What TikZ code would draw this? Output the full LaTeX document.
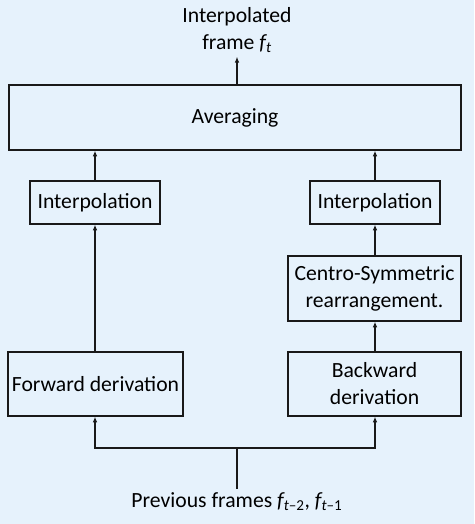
\documentclass[tikz,border=0pt]{standalone}
\usepackage{fontspec}
\setmainfont{Carlito}
\usepackage{xcolor}
\usetikzlibrary{arrows.meta, positioning, calc}
\definecolor{paleblue}{RGB}{230, 242, 252}
\definecolor{linegray}{RGB}{25, 25, 25}

\begin{document}
\begin{tikzpicture}[
    block/.style={rectangle, minimum width=5.19cm, minimum height=1.95cm, text centered, align=center, draw=linegray, fill=paleblue, line width=1pt, font=\fontsize{18.5}{23}\selectfont},
    small/.style={block, minimum width=3.9cm, minimum height=1.29cm},
    label/.style={text centered, align=center, font=\fontsize{18.5}{23}\selectfont},
    arrow/.style={line width=1pt, -{Latex[length=5pt, width=4pt]}, draw=linegray}
]

% Background
\fill[paleblue] (0,0) rectangle (14.22,15.72);
\useasboundingbox (0,0) rectangle (14.22,15.72);

% Blocks
\node (averaging) [block, minimum width=13.56cm] at (7.05,12.195) {Averaging};
\node (interp_fwd) [small] at (2.85,9.645) {Interpolation};
\node (interp_bwd) [small] at (11.25,9.645) {Interpolation};
\node (centro) [block] at (11.235,7.065) {Centro-Symmetric\\rearrangement.};
\node (forward) [block, minimum height=1.92cm] at (2.865,4.2) {Forward derivation};
\node (backward) [block, minimum height=1.92cm] at (11.235,4.2) {Backward\\derivation};

% Input and output
\node (output) [label] at (7.11,14.82) {Interpolated\\frame {\itshape f}\textsubscript{\itshape t}};
\node (input) [label] at (7.11,0.66) {Previous frames {\itshape f}\textsubscript{\itshape t\upshape–2}, {\itshape f}\textsubscript{\itshape t\upshape–1}};
\coordinate (split) at (7.11,2.28);

% Arrows
\draw [arrow] (averaging.north -| output) -- (output.south);
\draw [arrow] (interp_fwd.north) -- (interp_fwd.north |- averaging.south);
\draw [arrow] (interp_bwd.north) -- (interp_bwd.north |- averaging.south);
\draw [arrow] (forward.north -| interp_fwd) -- (interp_fwd.south);
\draw [arrow] (centro.north -| interp_bwd) -- (interp_bwd.south);
\draw [arrow] (backward.north -| interp_bwd) -- (centro.south -| interp_bwd);
\draw [arrow] (input.north) -- (split) -| (forward.south -| interp_fwd);
\draw [arrow] (split) -| (backward.south -| interp_bwd);

\end{tikzpicture}
\end{document}
